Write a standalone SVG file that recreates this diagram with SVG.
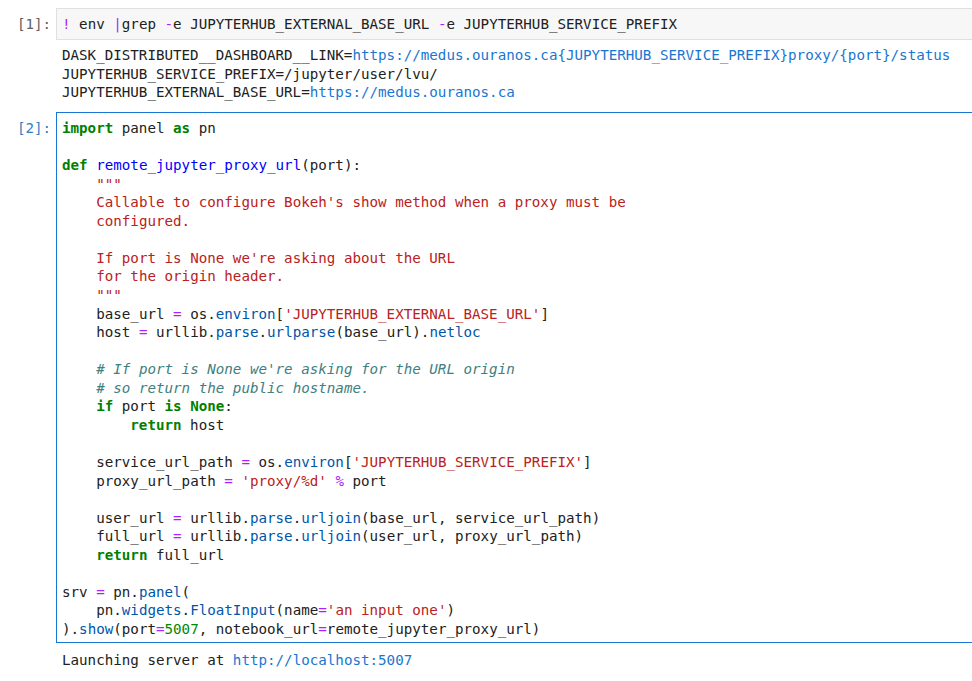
<svg xmlns="http://www.w3.org/2000/svg" width="972" height="681" viewBox="0 0 972 681">
<style>
text{font-family:"DejaVu Sans Mono",monospace;font-size:14.2px;fill:#212121}
.k{fill:#008000;font-weight:bold}
.o{fill:#aa22ff}
.s{fill:#ba2121}
.c{fill:#408080;font-style:italic}
.f{fill:#0000ff}
.p{fill:#0055aa}
.n{fill:#008800}
.a{fill:#1976d2}
.pr1{fill:#616161}
.pr2{fill:#307fc1}
</style>
<rect width="972" height="681" fill="#fff"/>
<g id="cell1">
<rect x="56.5" y="8.5" width="920" height="31" fill="#f7f7f7" stroke="#e0e0e0"/>
<text x="17" y="29" class="pr1">[1]:</text>
<text x="62" y="29"><tspan class="o">!</tspan> env <tspan class="o">|</tspan>grep <tspan class="o">-</tspan>e JUPYTERHUB_EXTERNAL_BASE_URL <tspan class="o">-</tspan>e JUPYTERHUB_SERVICE_PREFIX</text>
<text x="62" y="60">DASK_DISTRIBUTED__DASHBOARD__LINK=<tspan class="a">https://medus.ouranos.ca{JUPYTERHUB_SERVICE_PREFIX}proxy/{port}/status</tspan></text>
<text x="62" y="78.6">JUPYTERHUB_SERVICE_PREFIX=/jupyter/user/lvu/</text>
<text x="62" y="97.2">JUPYTERHUB_EXTERNAL_BASE_URL=<tspan class="a">https://medus.ouranos.ca</tspan></text>
</g>
<g id="cell2">
<rect x="56.5" y="112.5" width="920" height="530" fill="#fff" stroke="#1976d2"/>
<text x="17" y="133" class="pr2">[2]:</text>
<text x="62" y="133"><tspan class="k">import</tspan> panel <tspan class="k">as</tspan> pn</text>
<text x="62" y="170.1"><tspan class="k">def</tspan> <tspan class="f">remote_jupyter_proxy_url</tspan>(port):</text>
<text x="96.2" y="188.7" class="s">"""</text>
<text x="96.2" y="207.2" class="s">Callable to configure Bokeh's show method when a proxy must be</text>
<text x="96.2" y="225.8" class="s">configured.</text>
<text x="96.2" y="262.9" class="s">If port is None we're asking about the URL</text>
<text x="96.2" y="281.4" class="s">for the origin header.</text>
<text x="96.2" y="300" class="s">"""</text>
<text x="96.2" y="318.5">base_url <tspan class="o">=</tspan> os.<tspan class="p">environ</tspan>[<tspan class="s">'JUPYTERHUB_EXTERNAL_BASE_URL'</tspan>]</text>
<text x="96.2" y="337.1">host <tspan class="o">=</tspan> urllib.<tspan class="p">parse</tspan>.<tspan class="p">urlparse</tspan>(base_url).<tspan class="p">netloc</tspan></text>
<text x="96.2" y="374.2" class="c"># If port is None we're asking for the URL origin</text>
<text x="96.2" y="392.7" class="c"># so return the public hostname.</text>
<text x="96.2" y="411.3"><tspan class="k">if</tspan> port <tspan class="k">is</tspan> <tspan class="k">None</tspan>:</text>
<text x="130.3" y="429.8"><tspan class="k">return</tspan> host</text>
<text x="96.2" y="466.9">service_url_path <tspan class="o">=</tspan> os.<tspan class="p">environ</tspan>[<tspan class="s">'JUPYTERHUB_SERVICE_PREFIX'</tspan>]</text>
<text x="96.2" y="485.5">proxy_url_path <tspan class="o">=</tspan> <tspan class="s">'proxy/%d'</tspan> <tspan class="o">%</tspan> port</text>
<text x="96.2" y="522.6">user_url <tspan class="o">=</tspan> urllib.<tspan class="p">parse</tspan>.<tspan class="p">urljoin</tspan>(base_url, service_url_path)</text>
<text x="96.2" y="541.1">full_url <tspan class="o">=</tspan> urllib.<tspan class="p">parse</tspan>.<tspan class="p">urljoin</tspan>(user_url, proxy_url_path)</text>
<text x="96.2" y="559.7"><tspan class="k">return</tspan> full_url</text>
<text x="62" y="596.8">srv <tspan class="o">=</tspan> pn.<tspan class="p">panel</tspan>(</text>
<text x="96.2" y="615.3">pn.<tspan class="p">widgets</tspan>.<tspan class="p">FloatInput</tspan>(name<tspan class="o">=</tspan><tspan class="s">'an input one'</tspan>)</text>
<text x="62" y="633.9">).<tspan class="p">show</tspan>(port<tspan class="o">=</tspan><tspan class="n">5007</tspan>, notebook_url<tspan class="o">=</tspan>remote_jupyter_proxy_url)</text>
<text x="62" y="664.5">Launching server at <tspan class="a">http://localhost:5007</tspan></text>
</g>
</svg>
